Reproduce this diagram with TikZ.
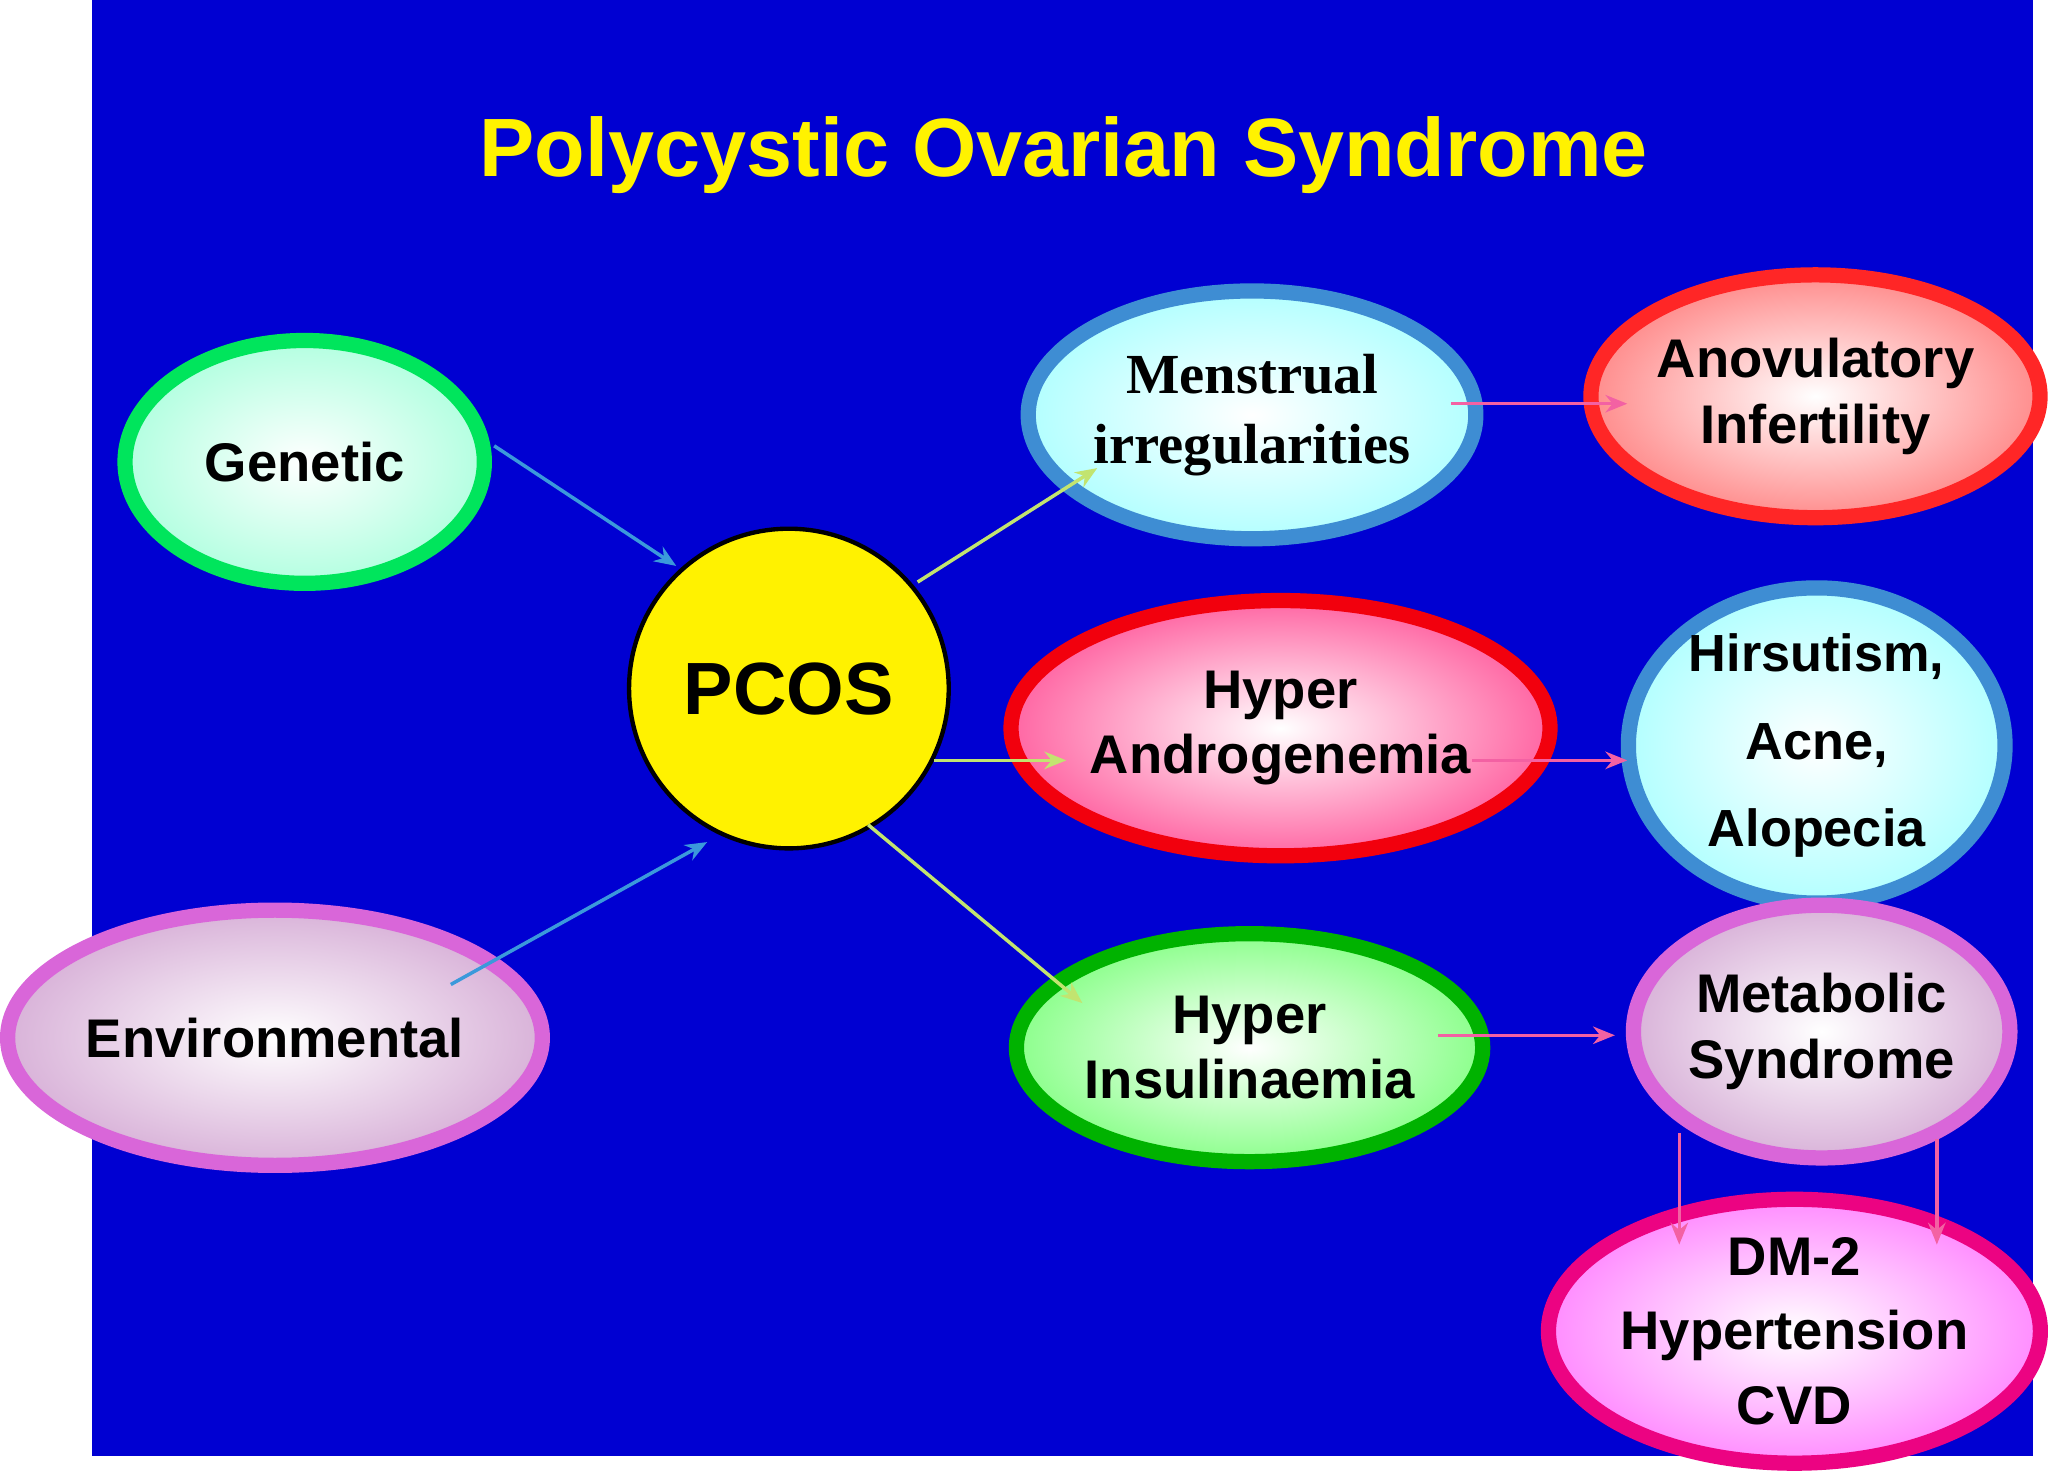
\documentclass[tikz,border=0pt]{standalone}
\usepackage{fontspec}
\setmainfont{Liberation Sans}
\newfontfamily\serifb{Liberation Serif}
\usetikzlibrary{shapes.geometric,arrows.meta}
\definecolor{bg}{RGB}{0,0,210}
\begin{document}
\begin{tikzpicture}[x=0.01cm,y=-0.01cm,
  ov/.style={ellipse,inner sep=0pt,line width=3.5pt,font=\bfseries\fontsize{12.5}{15}\selectfont,align=center,shading=radial,inner color=white},
  ar/.style={line width=0.8pt,-{Stealth[length=5pt,width=4pt]}},
  bl/.style={ar,draw=cyan!70!blue!80!white},
  yg/.style={ar,draw=yellow!60!green!60!white},
  pk/.style={ar,draw=magenta!50!pink}]
\fill[bg] (0,0) rectangle (1568,1176);
\node[text=yellow,font=\bfseries\fontsize{19}{22}\selectfont] (title) at (785,125) {Polycystic Ovarian Syndrome};
\node[ov,draw=green!60!cyan!90!black,outer color=green!40!cyan!30,minimum width=2.90cm,minimum height=1.96cm] (gen) at (172,373) {Genetic};
\node[ov,draw=violet!50!magenta!60,outer color=violet!30,minimum width=2.90cm,minimum height=2.06cm] (env) at (148,838) {Environmental};
\node[circle,draw=black,line width=1pt,fill=yellow,minimum size=2.58cm,font=\bfseries\fontsize{17}{20}\selectfont] (pcos) at (563,556) {PCOS};
\node[ov,draw=cyan!60!blue!80,outer color=cyan!30,minimum width=3.04cm,minimum height=2.00cm,font=\serifb\bfseries\fontsize{13}{16}\selectfont] (men) at (937,335) {Menstrual\\irregularities};
\node[ov,draw=red!85!white,outer color=red!45,minimum width=3.00cm,minimum height=1.96cm] (ano) at (1392,320) {Anovulatory\\Infertility};
\node[ov,draw=red!80!purple,outer color=red!60!magenta!60,minimum width=3.52cm,minimum height=2.06cm] (and) at (960,588) {Hyper\\Androgenemia};
\node[ov,draw=cyan!60!blue!80,outer color=cyan!30,minimum width=3.04cm,minimum height=2.00cm,font=\bfseries\fontsize{12}{20}\selectfont] (hir) at (1393,602) {Hirsutism,\\Acne,\\Alopecia};
\node[ov,draw=green!70!black,outer color=green!45,minimum width=3.00cm,minimum height=1.84cm] (ins) at (935,846) {Hyper\\Insulinaemia};
\node[ov,draw=violet!50!magenta!60,outer color=violet!30,minimum width=2.90cm,minimum height=2.04cm] (met) at (1397,833) {Metabolic\\Syndrome};
\node[ov,draw=magenta!90!red,outer color=magenta!45,minimum width=3.08cm,minimum height=1.94cm,font=\bfseries\fontsize{12.5}{17}\selectfont] (dm) at (1375,1075) {DM-2\\Hypertension\\CVD};
\coordinate (a1) at (325,360); \coordinate (a2) at (472,457);
\coordinate (b1) at (290,795); \coordinate (b2) at (497,680);
\coordinate (c1) at (667,470); \coordinate (c2) at (812,378);
\coordinate (d1) at (680,614); \coordinate (d2) at (787,614);
\coordinate (e1) at (627,666); \coordinate (e2) at (800,810);
\coordinate (f1) at (1098,326); \coordinate (f2) at (1240,326);
\coordinate (g1) at (1115,614); \coordinate (g2) at (1240,614);
\coordinate (h1) at (1087,836); \coordinate (h2) at (1230,836);
\coordinate (i1) at (1282,915); \coordinate (i2) at (1282,1005);
\coordinate (j1) at (1490,920); \coordinate (j2) at (1490,1005);
\draw[bl] (a1)--(a2); \draw[bl] (b1)--(b2);
\draw[yg] (c1)--(c2); \draw[yg] (d1)--(d2); \draw[yg] (e1)--(e2);
\draw[pk] (f1)--(f2); \draw[pk] (g1)--(g2); \draw[pk] (h1)--(h2);
\draw[pk] (i1)--(i2); \draw[pk] (j1)--(j2);
\end{tikzpicture}
\end{document}
